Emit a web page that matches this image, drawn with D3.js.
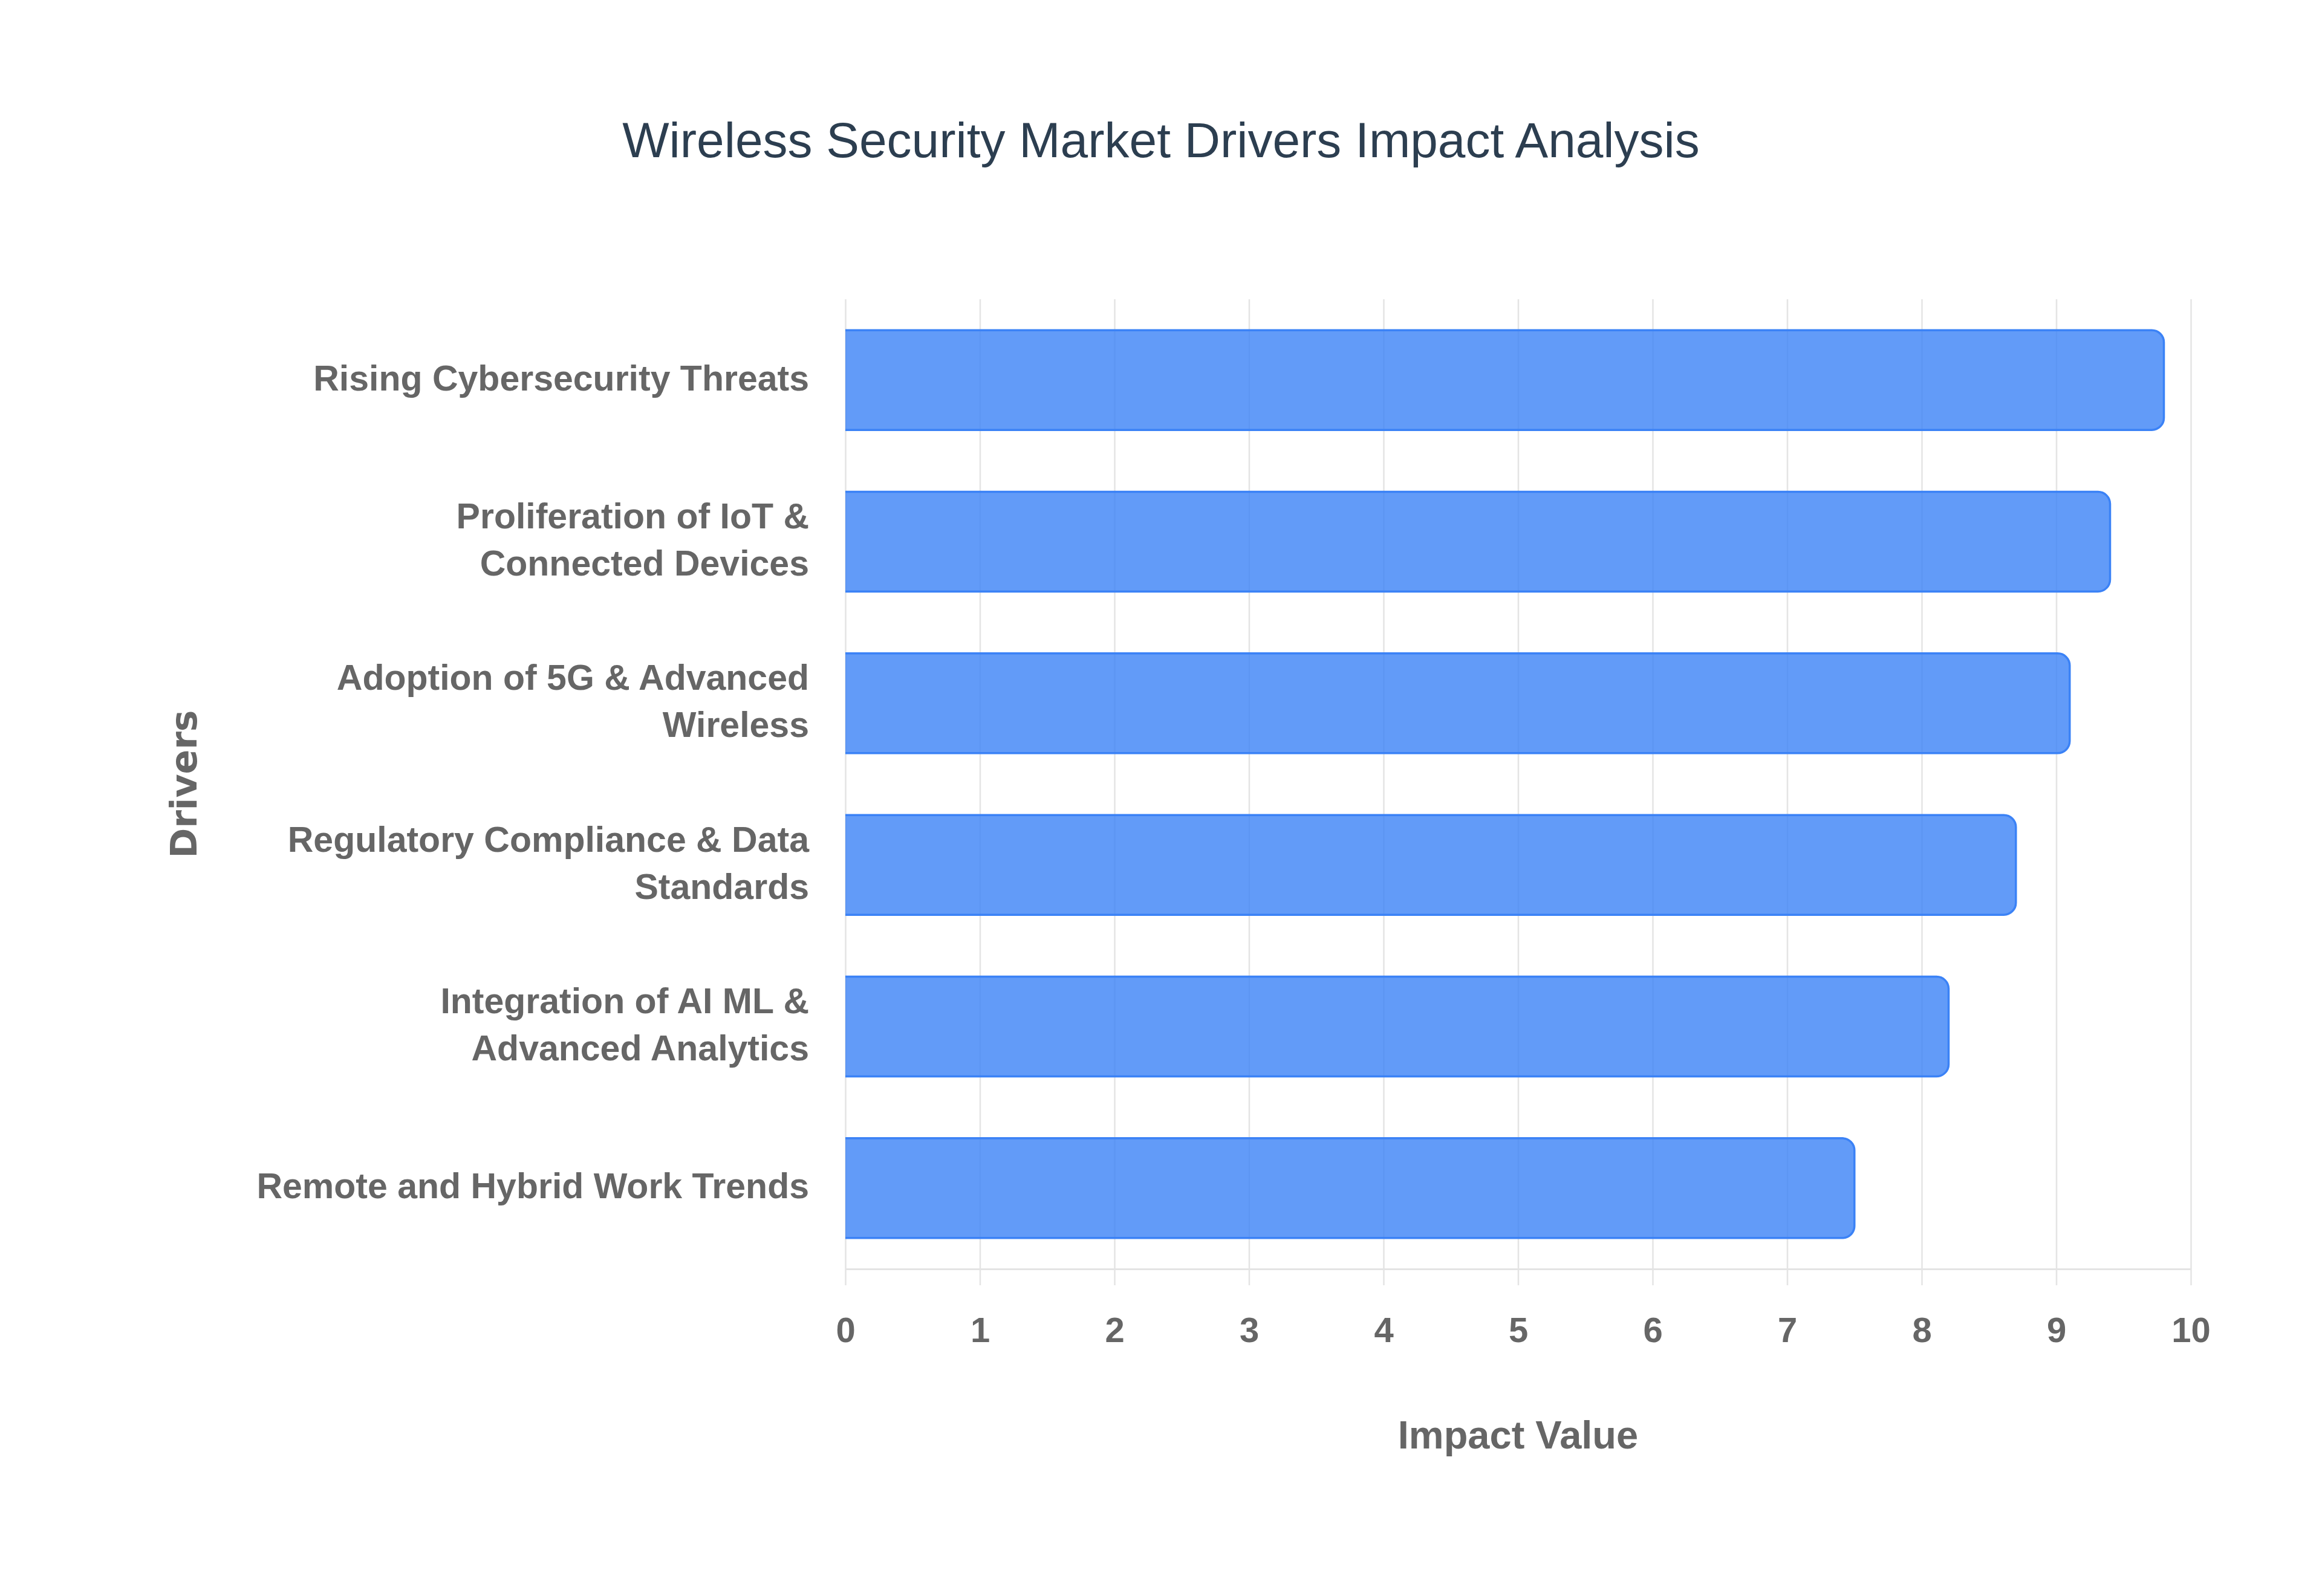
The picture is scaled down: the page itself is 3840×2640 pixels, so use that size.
<!DOCTYPE html>
<html>
<head>
<meta charset="utf-8">
<script src="https://cdn.jsdelivr.net/npm/d3@7"></script>
<style>
  html, body { margin: 0; padding: 0; background: #ffffff; }
  svg { display: block; }
</style>
</head>
<body>
<div id="chart"></div>
<script>
const
  WIDTH = 3840,
  HEIGHT = 2640;

// chart data
const drivers = [
  'Rising Cybersecurity Threats',
  'Proliferation of IoT &<br>Connected Devices',
  'Adoption of 5G & Advanced<br>Wireless',
  'Regulatory Compliance & Data<br>Standards',
  'Integration of AI ML &<br>Advanced Analytics',
  'Remote and Hybrid Work Trends'
];
const impactValues = [9.8, 9.4, 9.1, 8.7, 8.2, 7.5];
const xTicks = [0, 1, 2, 3, 4, 5, 6, 7, 8, 9, 10];

const titleText = 'Wireless Security Market Drivers Impact Analysis';
const xTitle = 'Impact Value';
const yTitle = 'Drivers';

const
  margin = { top: 495, right: 217, bottom: 541, left: 1398 },
  innerW = WIDTH - margin.left - margin.right,
  innerH = HEIGHT - margin.top - margin.bottom;

const
  GRID = '#e4e4e4',
  TEXT = '#666666',
  BAR = '#3b82f6';

const svg = d3.select('#chart')
  .append('svg')
  .attr('width', WIDTH)
  .attr('height', HEIGHT);

svg.append('rect')
  .attr('width', WIDTH)
  .attr('height', HEIGHT)
  .attr('fill', '#ffffff');

const x = d3.scaleLinear()
  .domain([0, 10])
  .range([0, innerW]);

const y = d3.scaleBand()
  .domain(drivers)
  .range([0, innerH])
  .paddingInner(0.383)
  .paddingOuter(0.1915);

const g = svg.append('g')
  .attr('transform', `translate(${margin.left},${margin.top})`);

// vertical grid lines, running a little past the baseline like ticks
const grid = g.append('g')
  .attr('transform', `translate(0,${innerH})`)
  .call(d3.axisBottom(x)
    .tickValues(xTicks)
    .tickSize(-innerH)
    .tickFormat(''));

grid.select('.domain').remove();
grid.selectAll('.tick line')
  .attr('y2', -innerH)
  .attr('y1', 27)
  .attr('stroke', GRID)
  .attr('stroke-width', 2.5);

// x axis line and labels
const xAxis = g.append('g')
  .attr('transform', `translate(0,${innerH})`)
  .call(d3.axisBottom(x)
    .tickValues(xTicks)
    .tickSize(0)
    .tickPadding(121)
    .tickFormat(d3.format('d')));

xAxis.select('.domain')
  .attr('stroke', GRID)
  .attr('stroke-width', 3);

xAxis.selectAll('.tick text')
  .attr('dy', 0)
  .attr('font-family', '"Liberation Sans", Arial, sans-serif')
  .attr('font-weight', 'bold')
  .attr('font-size', 58)
  .attr('fill', TEXT);

// bars with rounded right ends
const r = 20;

function barPath (d, i) {
  let
    x0 = x(0),
    x1 = x(impactValues[i]),
    y0 = y(d),
    y1 = y0 + y.bandwidth();

  return [
    'M', x0, y0,
    'H', x1 - r,
    'A', r, r, 0, 0, 1, x1, y0 + r,
    'V', y1 - r,
    'A', r, r, 0, 0, 1, x1 - r, y1,
    'H', x0
  ].join(' ');
}

g.append('g')
  .selectAll('path')
  .data(drivers)
  .enter()
  .append('path')
  .attr('d', barPath)
  .attr('fill', BAR)
  .attr('fill-opacity', 0.8)
  .attr('stroke', BAR)
  .attr('stroke-width', 3.5);

// category labels, broken on <br>
const yAxis = g.append('g')
  .call(d3.axisLeft(y)
    .tickSize(0)
    .tickPadding(60)
    .tickFormat(''));

yAxis.select('.domain').remove();

const lineHeight = 78;

yAxis.selectAll('.tick text')
  .attr('font-family', '"Liberation Sans", Arial, sans-serif')
  .attr('font-weight', 'bold')
  .attr('font-size', 59)
  .attr('fill', TEXT)
  .attr('text-anchor', 'end')
  .attr('dy', null)
  .each(function (d) {
    let
      lines = d.split('<br>'),
      text = d3.select(this),
      first = 17 - (lines.length - 1) * lineHeight / 2;

    lines.forEach((line, k) => {
      text.append('tspan')
        .attr('x', -60)
        .attr('y', first + k * lineHeight)
        .text(line);
    });
  });

// titles
svg.append('text')
  .attr('x', WIDTH / 2)
  .attr('y', 260)
  .attr('text-anchor', 'middle')
  .attr('font-family', '"Liberation Sans", Arial, sans-serif')
  .attr('font-size', 82)
  .attr('fill', '#2c3e50')
  .text(titleText);

svg.append('text')
  .attr('x', margin.left + innerW / 2)
  .attr('y', 2396)
  .attr('text-anchor', 'middle')
  .attr('font-family', '"Liberation Sans", Arial, sans-serif')
  .attr('font-weight', 'bold')
  .attr('font-size', 65)
  .attr('fill', TEXT)
  .text(xTitle);

svg.append('text')
  .attr('transform', `translate(325,${margin.top + innerH / 2}) rotate(-90)`)
  .attr('text-anchor', 'middle')
  .attr('font-family', '"DejaVu Sans", sans-serif')
  .attr('font-weight', 'bold')
  .attr('font-size', 60)
  .attr('fill', TEXT)
  .text(yTitle);
</script>
</body>
</html>
